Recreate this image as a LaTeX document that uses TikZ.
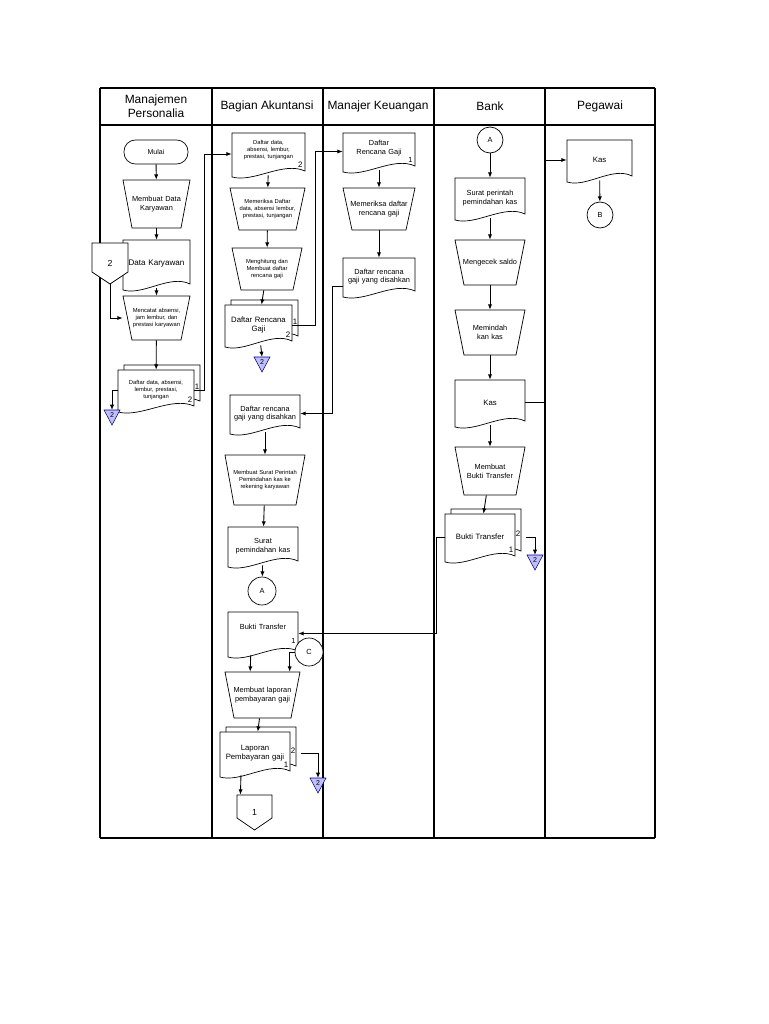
\documentclass[tikz,border=0pt]{standalone}
\usepackage{fontspec}
\setmainfont{Liberation Sans}
\usetikzlibrary{arrows.meta}
\hyphenpenalty=10000 \exhyphenpenalty=10000
\tikzset{
 x=0.02cm,y=-0.02cm,
 shp/.style={draw,fill=white,line width=0.4pt},
 lbl/.style={inner sep=0pt,align=center,font=\fontsize{3.3}{4}\selectfont},
 blbl/.style={inner sep=0pt,align=center,font=\fontsize{5}{6}\selectfont},
 arr/.style={-{Latex[length=3pt,width=2.4pt]},line width=0.5pt},
 lane/.style={line width=0.8pt},
 hdr/.style={font=\fontsize{6.8}{8}\selectfont,align=center},
}
% document: name x1 y1 x2 y2 style text
\newcommand\doc[7]{%
 \draw[shp] (#2,#3) -- (#4,#3) -- (#4,{#5-4}) .. controls ({#2+0.7*(#4-#2)},{#5-14}) and ({#2+0.3*(#4-#2)},{#5+8}) .. (#2,{#5+2}) -- cycle;
 \node[#6,minimum width={(#4-#2)*0.02cm},minimum height={(#5-#3)*0.02cm},text width={(#4-#2-5)*0.02cm}] (#1) at ({(#2+#4)/2},{(#3+#5)/2}) {#7};}
% multi document: name x1 y1 x2 y2 style text backlabel frontlabel
\newcommand\mdoc[9]{%
 \draw[shp] ({#2+6},{#3-5}) -- ({#4+6},{#3-5}) -- ({#4+6},{#5-9}) .. controls ({#2+6+0.7*(#4-#2)},{#5-19}) and ({#2+6+0.3*(#4-#2)},{#5+3}) .. ({#2+6},{#5-3}) -- cycle;
 \node[lbl,font=\fontsize{4.5}{5}\selectfont] at ({#4+3},{(#3+#5)/2-3}) {#8};
 \doc{#1}{#2}{#3}{#4}{#5}{#6}{#7}%
 \node[lbl,font=\fontsize{4.5}{5}\selectfont] at ({#4-4},{#5-10}) {#9};}
% trapezoid (manual op): name x1 y1 x2 y2 style text
\newcommand\trap[7]{%
 \draw[shp] (#2,#3) -- (#4,#3) -- ({#4-9},#5) -- ({#2+9},#5) -- cycle;
 \node[#6,minimum width={(#4-#2)*0.02cm},minimum height={(#5-#3)*0.02cm},text width={(#4-#2-14)*0.02cm}] (#1) at ({(#2+#4)/2},{(#3+#5)/2}) {#7};}
% off-page: name x1 y1 x2 y2 text
\newcommand\offp[6]{%
 \draw[shp] (#2,#3) -- (#4,#3) -- (#4,{#5-12}) -- ({(#2+#4)/2},#5) -- (#2,{#5-12}) -- cycle;
 \node[blbl,minimum width={(#4-#2)*0.02cm},minimum height={(#5-#3)*0.02cm}] (#1) at ({(#2+#4)/2},{(#3+#5)/2}) {#6};}
% archive triangle: name cx ytop
\newcommand\arch[3]{%
 \draw[fill=blue!25,draw=blue!50!black,line width=0.3pt] ({#2-8},#3) -- ({#2+8},#3) -- (#2,{#3+15}) -- cycle;
 \node[lbl,font=\fontsize{4}{4}\selectfont] at (#2,{#3+5}) {2};
 \coordinate (#1) at (#2,#3);}
\begin{document}
\begin{tikzpicture}
\useasboundingbox (0,0) rectangle (768,1024);
\fill[white] (0,0) rectangle (768,1024);
% lanes
\draw[lane,line width=1.2pt] (100,88) -- (655,88);
\draw[lane] (100,125) -- (655,125);
\draw[lane] (100,838) -- (655,838);
\foreach \x in {100,212,323,434,545,655} \draw[lane] (\x,88) -- (\x,838);
\node[hdr] at (156,106) {Manajemen\\Personalia};
\node[hdr] at (267,106) {Bagian Akuntansi};
\node[hdr] at (378,106) {Manajer Keuangan};
\node[hdr] at (490,106) {Bank};
\node[hdr] at (600,106) {Pegawai};

% Lane 1
\node[shp,rounded corners=6.5pt,minimum width={64*0.02cm},minimum height={24*0.02cm},blbl,font=\fontsize{4}{5}\selectfont] (mulai) at (156,152) {Mulai};
\trap{mdk}{123}{180}{190}{228}{lbl,font=\fontsize{4.2}{5}\selectfont}{Membuat Data Karyawan}
\doc{dk}{123}{240}{190}{288}{blbl,font=\fontsize{4.6}{5.5}\selectfont}{Data Karyawan}
\offp{op2}{92}{243}{128}{284}{2}
\trap{mcat}{123}{296}{190}{340}{lbl}{Mencatat absensi, jam lembur, dan prestasi karyawan}
\mdoc{dda}{118}{370}{194}{410}{lbl}{Daftar data, absensi,\\lembur, prestasi,\\tunjangan}{1}{2}
\arch{ar1}{112}{410}
\draw[arr] (mulai) -- (mdk);
\draw[arr] (mdk) -- (dk);
\draw[arr] (dk) -- (mcat);
\draw[arr] (mcat) -- (dda);
\draw[arr] (op2.south) |- (mcat.west);
\draw[arr] (dda.west) -| (ar1);

% Lane 2
\doc{dd2}{232}{133}{305}{175}{lbl}{Daftar data, absensi, lembur, prestasi, tunjangan\\[1pt]\hfill\fontsize{4.5}{5}\selectfont 2}
\trap{mrk}{230}{188}{305}{230}{lbl}{Memeriksa Daftar data, absensi lembur, prestasi, tunjangan}
\trap{mhit}{232}{248}{302}{290}{lbl}{Menghitung dan Membuat daftar rencana gaji}
\mdoc{drg}{225}{305}{292}{345}{blbl,font=\fontsize{4.4}{5.2}\selectfont}{Daftar Rencana\\Gaji}{1}{2}
\arch{ar2}{262}{357}
\draw[arr] (dda.east) -- ++(10,0) |- (dd2.west);
\draw[arr] (dd2) -- (mrk);
\draw[arr] (mrk) -- (mhit);
\draw[arr] (mhit) -- (drg);
\draw[arr] (drg) -- (ar2);

% Lane 3
\doc{drg3}{343}{133}{415}{170}{lbl,font=\fontsize{4.2}{5}\selectfont}{Daftar Rencana Gaji\\\hfill 1}
\trap{mrk3}{343}{188}{415}{230}{lbl,font=\fontsize{4.2}{5}\selectfont}{Memeriksa daftar rencana gaji}
\doc{dsah}{343}{258}{415}{295}{lbl,font=\fontsize{4.2}{5}\selectfont}{Daftar rencana gaji yang disahkan}
\draw[arr] (drg.east) -- ++(23,0) |- (drg3.west);
\draw[arr] (drg3) -- (mrk3);
\draw[arr] (mrk3) -- (dsah);

% Lane 2 continued
\doc{dsah2}{230}{395}{300}{432}{lbl,font=\fontsize{4.2}{5}\selectfont}{Daftar rencana gaji yang disahkan}
\draw[arr] ([yshift=-0.2cm]dsah.west) -- ++(-10,0) |- (dsah2.east);
\trap{msp}{225}{455}{305}{505}{lbl}{Membuat Surat Perintah Pemindahan kas ke rekening karyawan}
\doc{spk}{228}{527}{298}{565}{lbl,font=\fontsize{4.2}{5}\selectfont}{Surat pemindahan kas}
\node[draw,circle,minimum size={28*0.02cm},blbl,font=\fontsize{4.2}{5}\selectfont] (ca) at (262,591) {A};
\draw[arr] (dsah2) -- (msp);
\draw[arr] (msp) -- (spk);
\draw[arr] (spk) -- (ca);
\doc{bt2}{228}{612}{298}{655}{lbl,font=\fontsize{4.2}{5}\selectfont}{Bukti Transfer\\[3pt]\hfill 1}
\node[draw,fill=white,circle,minimum size={28*0.02cm},blbl,font=\fontsize{4.2}{5}\selectfont] (cc) at (309,652) {C};
\trap{mlap}{225}{672}{300}{718}{lbl,font=\fontsize{4.2}{5}\selectfont}{Membuat laporan pembayaran gaji}
\mdoc{lap}{220}{732}{290}{775}{blbl,font=\fontsize{4.4}{5.2}\selectfont}{Laporan\\Pembayaran gaji\\[5pt]}{2}{1}
\offp{op1}{237}{795}{272}{830}{1}
\arch{ar4}{318}{778}
\draw[arr] ([xshift=-7]bt2.south) -- ([xshift=-7]mlap.north);
\draw[arr] (cc.west) -- ++(-5,0) coordinate (c3) -- (c3 |- mlap.north);
\draw[arr] (mlap) -- (lap);
\draw[arr] ([xshift=-8]lap.south) -- ([xshift=-8]op1.north);
\draw[arr] ([xshift=6]lap.east) -| (ar4);

% Lane 4 Bank
\node[draw,circle,minimum size={26*0.02cm},blbl,font=\fontsize{4.2}{5}\selectfont] (ba) at (490,140) {A};
\doc{spk4}{455}{178}{525}{218}{lbl,font=\fontsize{4.2}{5}\selectfont}{Surat perintah pemindahan kas}
\trap{cek}{455}{240}{525}{285}{lbl,font=\fontsize{4.2}{5}\selectfont}{Mengecek saldo}
\trap{pind}{455}{310}{525}{355}{lbl,font=\fontsize{4.2}{5}\selectfont}{Memindah kan kas}
\doc{kas}{455}{380}{525}{425}{blbl,font=\fontsize{4.4}{5.2}\selectfont}{Kas}
\trap{mbt}{455}{447}{525}{495}{lbl,font=\fontsize{4.2}{5}\selectfont}{Membuat Bukti Transfer}
\mdoc{bt4}{445}{514}{515}{560}{blbl,font=\fontsize{4.4}{5.2}\selectfont}{Bukti Transfer}{2}{1}
\arch{ar3}{535}{555}
\draw[arr] (ba) -- (spk4);
\draw[arr] (spk4) -- (cek);
\draw[arr] (cek) -- (pind);
\draw[arr] (pind) -- (kas);
\draw[arr] (kas) -- (mbt);
\draw[arr] (mbt) -- (bt4);
\draw[arr] ([xshift=6]bt4.east) -| (ar3);
\draw[arr] (bt4.west) -- ++(-8,0) |- (bt2.east);

% Lane 5
\doc{kas5}{567}{140}{632}{180}{blbl,font=\fontsize{4.4}{5.2}\selectfont}{Kas}
\node[draw,circle,minimum size={26*0.02cm},blbl,font=\fontsize{4.2}{5}\selectfont] (cb) at (600,215) {B};
\draw[arr] (kas.east) -- ++(20,0) |- (kas5.west);
\draw[arr] (kas5) -- (cb);
\end{tikzpicture}
\end{document}
